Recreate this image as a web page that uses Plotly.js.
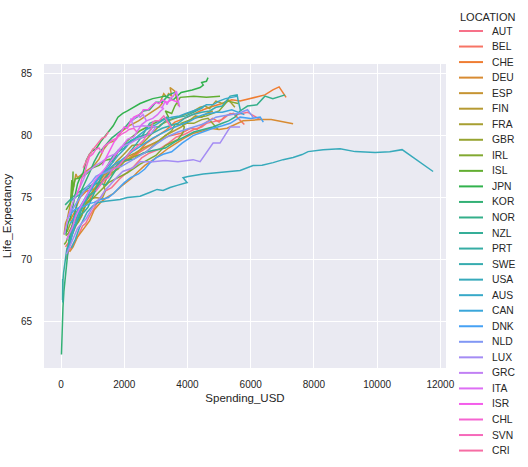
<!DOCTYPE html>
<html>
<head>
<meta charset="utf-8">
<script src="https://cdn.plot.ly/plotly-3.0.1.min.js"></script>
<style>html,body{margin:0;padding:0;background:#fff;}#chart{width:528px;height:467px;}</style>
</head>
<body>
<div id="chart"></div>
<script>
// ---- data (Spending_USD, Life_Expectancy) per LOCATION ----
const locations = ["AUT","BEL","CHE","DEU","ESP","FIN","FRA","GBR","IRL","ISL","JPN","KOR","NOR","NZL","PRT","SWE","USA","AUS","CAN","DNK","NLD","LUX","GRC","ITA","ISR","CHL","SVN","CRI"];
const xTicks = [0,2000,4000,6000,8000,10000,12000];
const yTicks = [65,70,75,80,85];

const spend_AUT = [160,230,330,450,560,680,780,900,1050,1200,1380,1600,1850,2100,2300,2550,2800,3100,3400,3650,3900,4200,4450,4600,4900,5100,5350,5550,5900,6300];
const life_AUT  = [70.0,70.6,71.0,71.5,72.0,72.7,72.9,73.5,74.2,74.8,75.5,75.8,76.5,77.1,77.5,78.2,78.6,78.9,79.4,79.9,80.1,80.5,80.7,81.0,81.2,81.3,81.8,81.7,81.9,81.3];
const spend_BEL = [140,250,380,520,650,780,900,1050,1250,1450,1650,1900,2150,2450,2750,3100,3450,3800,4100,4300,4600,4800,5000,5200,5450,5800];
const life_BEL  = [71.0,71.4,72.2,73.0,73.5,74.4,74.8,75.6,76.2,76.9,77.6,77.9,78.0,78.6,79.1,79.6,80.0,80.2,80.6,80.5,81.1,81.4,81.1,81.6,81.8,80.9];
const spend_CHE = [280,420,600,800,1050,1250,1500,1800,2100,2400,2700,3000,3300,3600,4000,4400,4700,5100,5400,5665,6000,6450,6700,6900,7120];
const life_CHE  = [73.1,73.8,75.0,75.5,75.7,76.5,77.3,77.5,78.1,78.6,79.4,79.9,80.4,81.1,81.5,82.0,82.3,82.6,82.9,82.8,83.0,83.3,83.7,83.95,83.1];
const spend_DEU = [270,380,520,700,900,1050,1250,1450,1650,1900,2100,2250,2400,2650,2950,3200,3400,3650,3900,4200,4500,4700,5000,5250,5500,5760,6300,6650,7342];
const life_DEU  = [70.6,71.0,71.8,72.4,73.1,74.0,74.6,75.0,75.3,75.9,76.3,76.6,77.0,77.6,78.1,78.6,79.0,79.4,79.8,80.2,80.4,80.6,80.5,80.6,80.9,81.2,81.3,81.3,80.97];
const spend_ESP = [95,140,200,280,360,400,440,470,520,620,750,900,1050,1200,1350,1500,1700,1900,2150,2450,2800,3100,3200,3150,3250,3350,3400,3500,3450,3600,3720];
const life_ESP  = [72.0,72.9,73.3,74.3,75.6,75.9,76.5,76.9,76.6,76.8,77.0,77.3,77.6,78.1,78.9,79.4,79.6,80.3,80.8,81.2,81.8,82.3,82.6,82.8,83.4,83.1,83.4,83.2,83.9,83.6,82.4];
const spend_FIN = [190,270,380,520,650,800,950,1100,1300,1400,1350,1450,1600,1750,1900,2100,2350,2600,2850,3100,3300,3450,3600,3800,4000,4100,4250,4450,4600,4800];
const life_FIN  = [70.8,71.5,72.4,73.2,73.6,74.6,74.9,75.0,74.9,75.5,76.0,76.6,76.9,77.3,77.7,78.3,78.6,79.0,79.3,79.6,80.0,80.2,80.4,80.7,81.1,81.3,81.6,81.5,81.8,82.0];
const spend_FRA = [190,280,400,550,750,950,1150,1350,1550,1750,1950,2250,2550,2850,3150,3400,3700,3950,4200,4400,4550,4700,4900,5100,5300,5500];
const life_FRA  = [72.2,72.8,73.4,74.1,74.7,75.3,76.0,76.8,77.2,77.9,78.4,79.2,79.3,80.1,80.9,81.2,81.5,81.7,82.0,82.3,82.4,82.2,82.8,82.6,82.9,82.3];
const spend_GBR = [150,230,330,460,600,730,850,1000,1150,1300,1450,1600,1800,2000,2300,2650,2900,3100,3300,3500,3600,3750,4000,4200,4450,4650,4970];
const life_GBR  = [71.9,72.1,72.6,73.2,73.8,74.5,74.9,75.5,75.9,76.2,76.8,77.0,77.3,77.9,78.3,78.6,79.2,79.6,80.0,80.4,80.9,80.9,81.0,81.0,81.3,81.4,80.5];
const spend_IRL = [100,160,260,420,550,650,700,800,950,1150,1300,1500,1800,2100,2500,3000,3300,3700,3850,3900,3800,3900,4200,4600,5000,5270,5600];
const life_IRL  = [71.2,71.4,72.1,72.6,73.0,73.5,74.0,74.5,74.8,75.3,75.7,76.2,76.6,77.0,77.7,78.4,79.2,79.7,80.2,80.7,81.0,81.1,81.4,81.6,82.0,82.8,82.6];
const spend_ISL = [160,220,300,340,350,380,360,420,450,600,800,1000,1200,1400,1550,1650,1800,2100,2500,2800,3100,3400,3300,3500,3600,3770,4200,4600,5030];
const life_ISL  = [74.0,74.3,74.6,76.4,74.9,77.1,75.3,76.2,76.5,76.6,76.9,77.4,77.6,78.0,78.1,77.9,78.7,79.6,80.4,80.8,81.2,81.5,82.0,81.8,82.4,83.1,83.2,83.1,83.2];
const spend_JPN = [150,220,300,380,450,520,600,700,800,900,1000,1100,1250,1400,1500,1650,1800,1950,2100,2300,2500,2700,2900,3100,3300,3550,3800,4150,4400,4500,4450,4600,4650];
const life_JPN  = [72.0,72.9,73.4,74.3,75.2,76.1,76.6,77.0,78.0,78.5,78.8,78.9,79.5,80.0,80.3,80.8,81.5,81.8,82.0,82.3,82.6,82.8,83.0,83.1,83.2,82.9,83.5,83.7,83.9,84.1,84.3,84.4,84.7];
const spend_KOR = [12,20,30,45,60,90,140,200,260,330,420,520,650,780,900,1050,1200,1400,1600,1800,2000,2200,2400,2600,2800,3000,3200,3400,3600];
const life_KOR  = [62.3,63.2,64.2,65.3,66.1,67.4,68.7,70.2,71.7,72.5,73.6,74.7,75.6,76.4,77.0,77.9,78.6,79.2,79.8,80.2,80.6,81.2,81.5,82.0,82.1,82.7,82.7,83.3,83.5];
const spend_NOR = [130,200,320,480,650,850,1000,1200,1400,1550,1700,1850,2000,2300,2600,2900,3300,3600,3900,4200,4500,4800,5100,5300,5500,5665,5900,6200,6450,6700,7090];
const life_NOR  = [74.4,74.6,74.9,75.3,75.6,75.9,76.0,76.2,76.0,76.5,77.1,77.7,78.0,78.1,78.6,78.8,79.0,79.5,79.9,80.3,80.5,80.7,81.0,81.2,81.5,82.0,82.4,82.5,83.2,83.0,83.3];
const spend_NZL = [220,300,400,500,620,720,850,950,1050,1150,1250,1350,1450,1550,1650,1800,2000,2200,2450,2700,2900,3100,3300,3550,3800,3950,4200,4500];
const life_NZL  = [71.5,71.6,72.3,73.0,73.6,73.8,74.2,74.8,75.4,76.0,76.6,77.1,77.5,77.9,78.4,78.7,79.0,79.6,79.9,80.1,80.7,80.7,81.2,81.4,81.5,81.6,81.9,82.3];
const spend_PRT = [45,50,55,60,80,120,180,250,330,400,480,550,650,750,900,1050,1200,1350,1500,1650,1800,2000,2200,2400,2550,2700,2800,3000,3100,3350,3500];
const life_PRT  = [66.7,68.4,66.5,68.3,68.9,69.8,70.8,71.3,72.0,72.7,72.9,73.4,74.0,74.6,75.2,75.4,75.9,76.4,76.9,77.3,77.7,78.1,78.8,79.4,79.9,80.6,81.0,81.2,81.1,81.5,80.8];
const spend_SWE = [300,420,560,720,900,1050,1200,1350,1500,1650,1800,1950,2150,2400,2650,2900,3200,3450,3700,3900,4150,4450,4700,4900,5100,5350,5570,5600,5680];
const life_SWE  = [74.7,74.9,75.2,75.5,75.8,76.2,76.7,77.2,77.6,78.1,78.8,79.1,79.5,79.7,79.9,80.2,80.6,80.8,81.0,81.4,81.7,81.9,82.0,82.3,82.4,83.2,83.3,82.9,82.0];
const spend_USA = [326,450,590,730,823,1000,1171,1400,1650,1867,2100,2500,2800,3038,3228,3449,3700,3987,3861,4019,4500,4937,5300,5665,6076,6360,6709,7025,7342,7627,7816,8291,8829,9304,9937,10400,10791,11772];
const life_USA  = [70.9,71.6,72.6,73.4,73.8,74.3,74.6,74.7,74.8,74.84,75.0,75.1,75.4,75.65,75.56,75.81,76.0,76.21,76.6,76.69,76.9,77.02,77.1,77.18,77.58,77.6,77.82,78.06,78.23,78.47,78.71,78.87,78.95,78.71,78.63,78.7,78.87,77.1];
const spend_AUS = [220,300,400,520,650,780,900,1050,1200,1350,1500,1650,1800,2000,2200,2450,2700,3000,3250,3500,3750,3950,4200,4400,4600,4800,5000,5200,5600];
const life_AUS  = [70.8,71.4,72.5,73.4,74.4,74.8,75.4,76.0,76.6,77.0,77.4,77.9,78.4,78.9,79.5,80.0,80.5,80.9,81.3,81.5,81.6,81.8,82.0,82.2,82.5,82.5,82.8,83.0,83.2];
const spend_CAN = [280,380,500,650,800,950,1150,1350,1550,1750,1900,2050,2300,2600,2900,3200,3500,3800,4100,4300,4500,4700,4900,5100,5400,5800];
const life_CAN  = [72.9,73.2,73.8,74.5,75.2,75.8,76.4,77.0,77.4,77.8,78.0,78.3,78.8,79.3,79.8,80.2,80.6,80.9,81.2,81.5,81.7,81.8,81.9,81.9,82.1,81.7];
const spend_DNK = [200,300,420,580,750,900,1050,1200,1350,1500,1650,1800,2000,2200,2450,2650,2816,3000,3228,3500,3830,4177,4500,4810,5100,5350,5665,6000,6300,6400];
const life_DNK  = [73.3,73.6,74.0,74.2,74.3,74.5,74.6,74.8,74.9,75.0,75.3,75.7,76.2,76.6,76.9,77.3,77.8,78.2,78.5,78.7,79.4,80.0,80.3,80.6,80.8,81.0,81.5,81.4,81.5,81.1];
const spend_NLD = [250,350,480,650,800,950,1100,1250,1400,1550,1700,1900,2100,2350,2650,3000,3350,3700,4100,4450,4700,4900,5100,5350,5600,5900,6100];
const life_NLD  = [73.6,74.0,74.6,75.3,75.8,76.2,76.7,76.9,77.0,77.2,77.4,77.5,77.8,78.2,78.6,79.3,79.9,80.3,80.6,80.9,81.2,81.5,81.6,81.7,81.8,82.1,81.4];
const spend_LUX = [170,250,380,520,650,800,950,1100,1250,1400,1550,1750,1950,2150,2278,2500,2900,3300,3700,4177,4400,4810,5030,5350,5665];
const life_LUX  = [70.4,70.9,71.6,72.5,72.9,73.3,74.0,74.6,75.0,75.6,76.0,76.6,77.1,77.3,77.4,77.9,77.9,78.0,77.9,78.06,77.9,79.4,79.4,80.7,80.7];
const spend_GRC = [100,150,220,300,400,500,600,700,800,950,1100,1300,1500,1700,1900,2200,2400,2700,2850,3000,2600,2300,2200,2250,2400,2500,2600,2700];
const life_GRC  = [72.0,72.6,73.3,74.0,74.8,75.3,75.8,76.4,77.0,77.3,77.6,77.9,78.3,78.5,79.1,79.4,79.7,80.0,80.2,80.7,80.8,80.7,81.4,81.2,81.6,81.5,81.7,81.2];
const spend_ITA = [180,260,360,480,620,760,900,1050,1200,1350,1500,1650,1800,1950,2100,2300,2400,2550,2700,2900,3050,3150,3250,3150,3200,3300,3350,3450,3550,3650,3750];
const life_ITA  = [71.6,72.1,72.6,73.6,74.2,74.9,75.6,76.3,76.8,77.2,77.7,78.2,78.7,79.2,79.7,79.9,80.3,80.9,81.2,81.4,81.7,82.0,82.2,82.3,82.3,82.8,82.5,83.0,83.2,83.6,82.3];
const spend_ISR = [1300,1400,1500,1600,1700,1750,1800,1900,2000,2100,2200,2300,2450,2550,2600,2750,2900,3000,3100,3200,3350,3500,3700];
const life_ISR  = [77.6,78.1,78.5,79.0,79.6,79.7,80.1,80.3,80.7,80.6,81.2,81.5,81.7,81.8,82.1,82.1,82.5,82.7,82.6,82.9,82.7,82.9,82.7];
const spend_CHL = [500,550,600,650,700,750,800,850,900,1000,1100,1200,1300,1350,1450,1600,1750,1900,2050,2150,2300,2400];
const life_CHL  = [75.2,75.6,75.9,76.5,76.7,77.0,77.5,77.9,78.3,78.5,78.9,79.0,78.6,79.1,79.3,79.6,79.8,80.1,80.3,80.5,80.6,80.3];
const spend_SVN = [1100,1200,1300,1400,1500,1600,1800,2000,2200,2400,2600,2700,2800,2750,2850,2900,3000,3100,3250,3500];
const life_SVN  = [75.5,75.9,76.2,76.5,76.6,77.2,77.5,78.1,78.7,79.1,79.6,80.0,80.2,80.2,80.5,81.1,81.2,81.2,81.6,80.6];
const spend_CRI = [700,750,800,850,900,950,1000,1050,1100,1200,1300,1400,1450,1500];
const life_CRI  = [77.4,77.7,78.0,78.3,78.5,78.6,78.9,79.0,79.2,79.5,79.8,79.9,80.1,80.3];

// table built from the arrays above
const seriesX = {AUT:spend_AUT,BEL:spend_BEL,CHE:spend_CHE,DEU:spend_DEU,ESP:spend_ESP,FIN:spend_FIN,FRA:spend_FRA,GBR:spend_GBR,IRL:spend_IRL,ISL:spend_ISL,JPN:spend_JPN,KOR:spend_KOR,NOR:spend_NOR,NZL:spend_NZL,PRT:spend_PRT,SWE:spend_SWE,USA:spend_USA,AUS:spend_AUS,CAN:spend_CAN,DNK:spend_DNK,NLD:spend_NLD,LUX:spend_LUX,GRC:spend_GRC,ITA:spend_ITA,ISR:spend_ISR,CHL:spend_CHL,SVN:spend_SVN,CRI:spend_CRI};
const seriesY = {AUT:life_AUT,BEL:life_BEL,CHE:life_CHE,DEU:life_DEU,ESP:life_ESP,FIN:life_FIN,FRA:life_FRA,GBR:life_GBR,IRL:life_IRL,ISL:life_ISL,JPN:life_JPN,KOR:life_KOR,NOR:life_NOR,NZL:life_NZL,PRT:life_PRT,SWE:life_SWE,USA:life_USA,AUS:life_AUS,CAN:life_CAN,DNK:life_DNK,NLD:life_NLD,LUX:life_LUX,GRC:life_GRC,ITA:life_ITA,ISR:life_ISR,CHL:life_CHL,SVN:life_SVN,CRI:life_CRI};

// seaborn husl palette
function huslToRgb(h, s, l) {
  const m = [[3.2406,-1.5372,-0.4986],[-0.9689,1.8758,0.0415],[0.0557,-0.2040,1.0570]];
  const refU = 0.19784, refV = 0.46834, labE = 0.008856, labK = 903.3;
  const hrad = h * Math.PI / 180, sinH = Math.sin(hrad), cosH = Math.cos(hrad);
  const sub1 = Math.pow(l + 16, 3) / 1560896, sub2 = sub1 > labE ? sub1 : l / labK;
  let mx = Infinity;
  for (const r of m) {
    const m1 = r[0], m2 = r[1], m3 = r[2];
    const top = (0.99915*m1 + 1.05122*m2 + 1.14460*m3) * sub2;
    const rb = 0.86330*m3 - 0.17266*m2, lb = 0.12949*m3 - 0.38848*m1;
    const bottom = (rb*sinH + lb*cosH) * sub2;
    for (const t of [0, 1]) {
      const C = l * (top - 1.05122*t) / (bottom + 0.17266*sinH*t);
      if (C > 0 && C < mx) mx = C;
    }
  }
  const C = mx / 100 * s;
  const U = Math.cos(hrad) * C, V = Math.sin(hrad) * C;
  const tt = (l + 16) / 116;
  const varY = Math.pow(tt, 3) > labE ? Math.pow(tt, 3) : (116*tt - 16) / labK;
  const varU = U / (13*l) + refU, varV = V / (13*l) + refV;
  const Y = varY;
  const X = -(9*Y*varU) / ((varU - 4)*varV - varU*varV);
  const Z = (9*Y - 15*varV*Y - varV*X) / (3*varV);
  const rgb = m.map(r => {
    let c = r[0]*X + r[1]*Y + r[2]*Z;
    c = c <= 0.0031308 ? 12.92*c : 1.055*Math.pow(c, 1/2.4) - 0.055;
    return Math.round(Math.min(1, Math.max(0, c)) * 255);
  });
  return 'rgb(' + rgb.join(',') + ')';
}
const n = locations.length;
const palette = locations.map((_, i) => huslToRgb(((i / n + 0.01) % 1) * 359, 0.9 * 99, 0.65 * 99));

const traces = locations.map((loc, i) => ({
  type: 'scatter', mode: 'lines', name: loc,
  x: seriesX[loc], y: seriesY[loc],
  line: {color: palette[i], width: 1.5},
  showlegend: false, hoverinfo: 'skip'
}));

// legend drawn manually (positions in paper coords)
const L = 44, T = 64, W = 402, H = 304;
const px = p => (p - L) / W;
const py = p => (T + H - p) / H;
const shapes = [];
const annotations = [{
  xref: 'paper', yref: 'paper', x: px(458), y: py(16.5), xanchor: 'left', yanchor: 'middle',
  text: 'LOCATION', showarrow: false, font: {size: 11, color: '#262626'}
}];
locations.forEach((loc, i) => {
  const yy = 31 + 15.54 * i;
  shapes.push({type: 'line', xref: 'paper', yref: 'paper', x0: px(459), x1: px(483), y0: py(yy), y1: py(yy),
    line: {color: palette[i], width: 2}});
  annotations.push({xref: 'paper', yref: 'paper', x: px(490), y: py(yy), xanchor: 'left', yanchor: 'middle',
    text: loc, showarrow: false, font: {size: 10.3, color: '#262626'}});
});

const layout = {
  width: 528, height: 467,
  margin: {l: L, r: 528 - L - W, t: T, b: 467 - T - H, pad: 0},
  paper_bgcolor: '#ffffff', plot_bgcolor: '#EAEAF2',
  font: {family: '"Liberation Sans", Arial, sans-serif', color: '#262626'},
  showlegend: false,
  xaxis: {
    range: [-540, 12180], tickvals: xTicks, ticktext: xTicks.map(String),
    showgrid: true, gridcolor: '#ffffff', gridwidth: 1, zeroline: false, showline: false,
    ticks: 'outside', ticklen: 7, tickcolor: 'rgba(0,0,0,0)',
    tickfont: {size: 10, color: '#262626'},
    title: {text: 'Spending_USD', font: {size: 11.5, color: '#262626'}, standoff: 4}
  },
  yaxis: {
    range: [61.2, 85.8], tickvals: yTicks, ticktext: yTicks.map(String),
    showgrid: true, gridcolor: '#ffffff', gridwidth: 1, zeroline: false, showline: false,
    ticks: 'outside', ticklen: 9, tickcolor: 'rgba(0,0,0,0)',
    tickfont: {size: 10, color: '#262626'},
    title: {text: 'Life_Expectancy', font: {size: 11.5, color: '#262626'}, standoff: 6}
  },
  shapes: shapes,
  annotations: annotations
};

Plotly.newPlot('chart', traces, layout, {staticPlot: true, displayModeBar: false});
</script>
</body>
</html>
